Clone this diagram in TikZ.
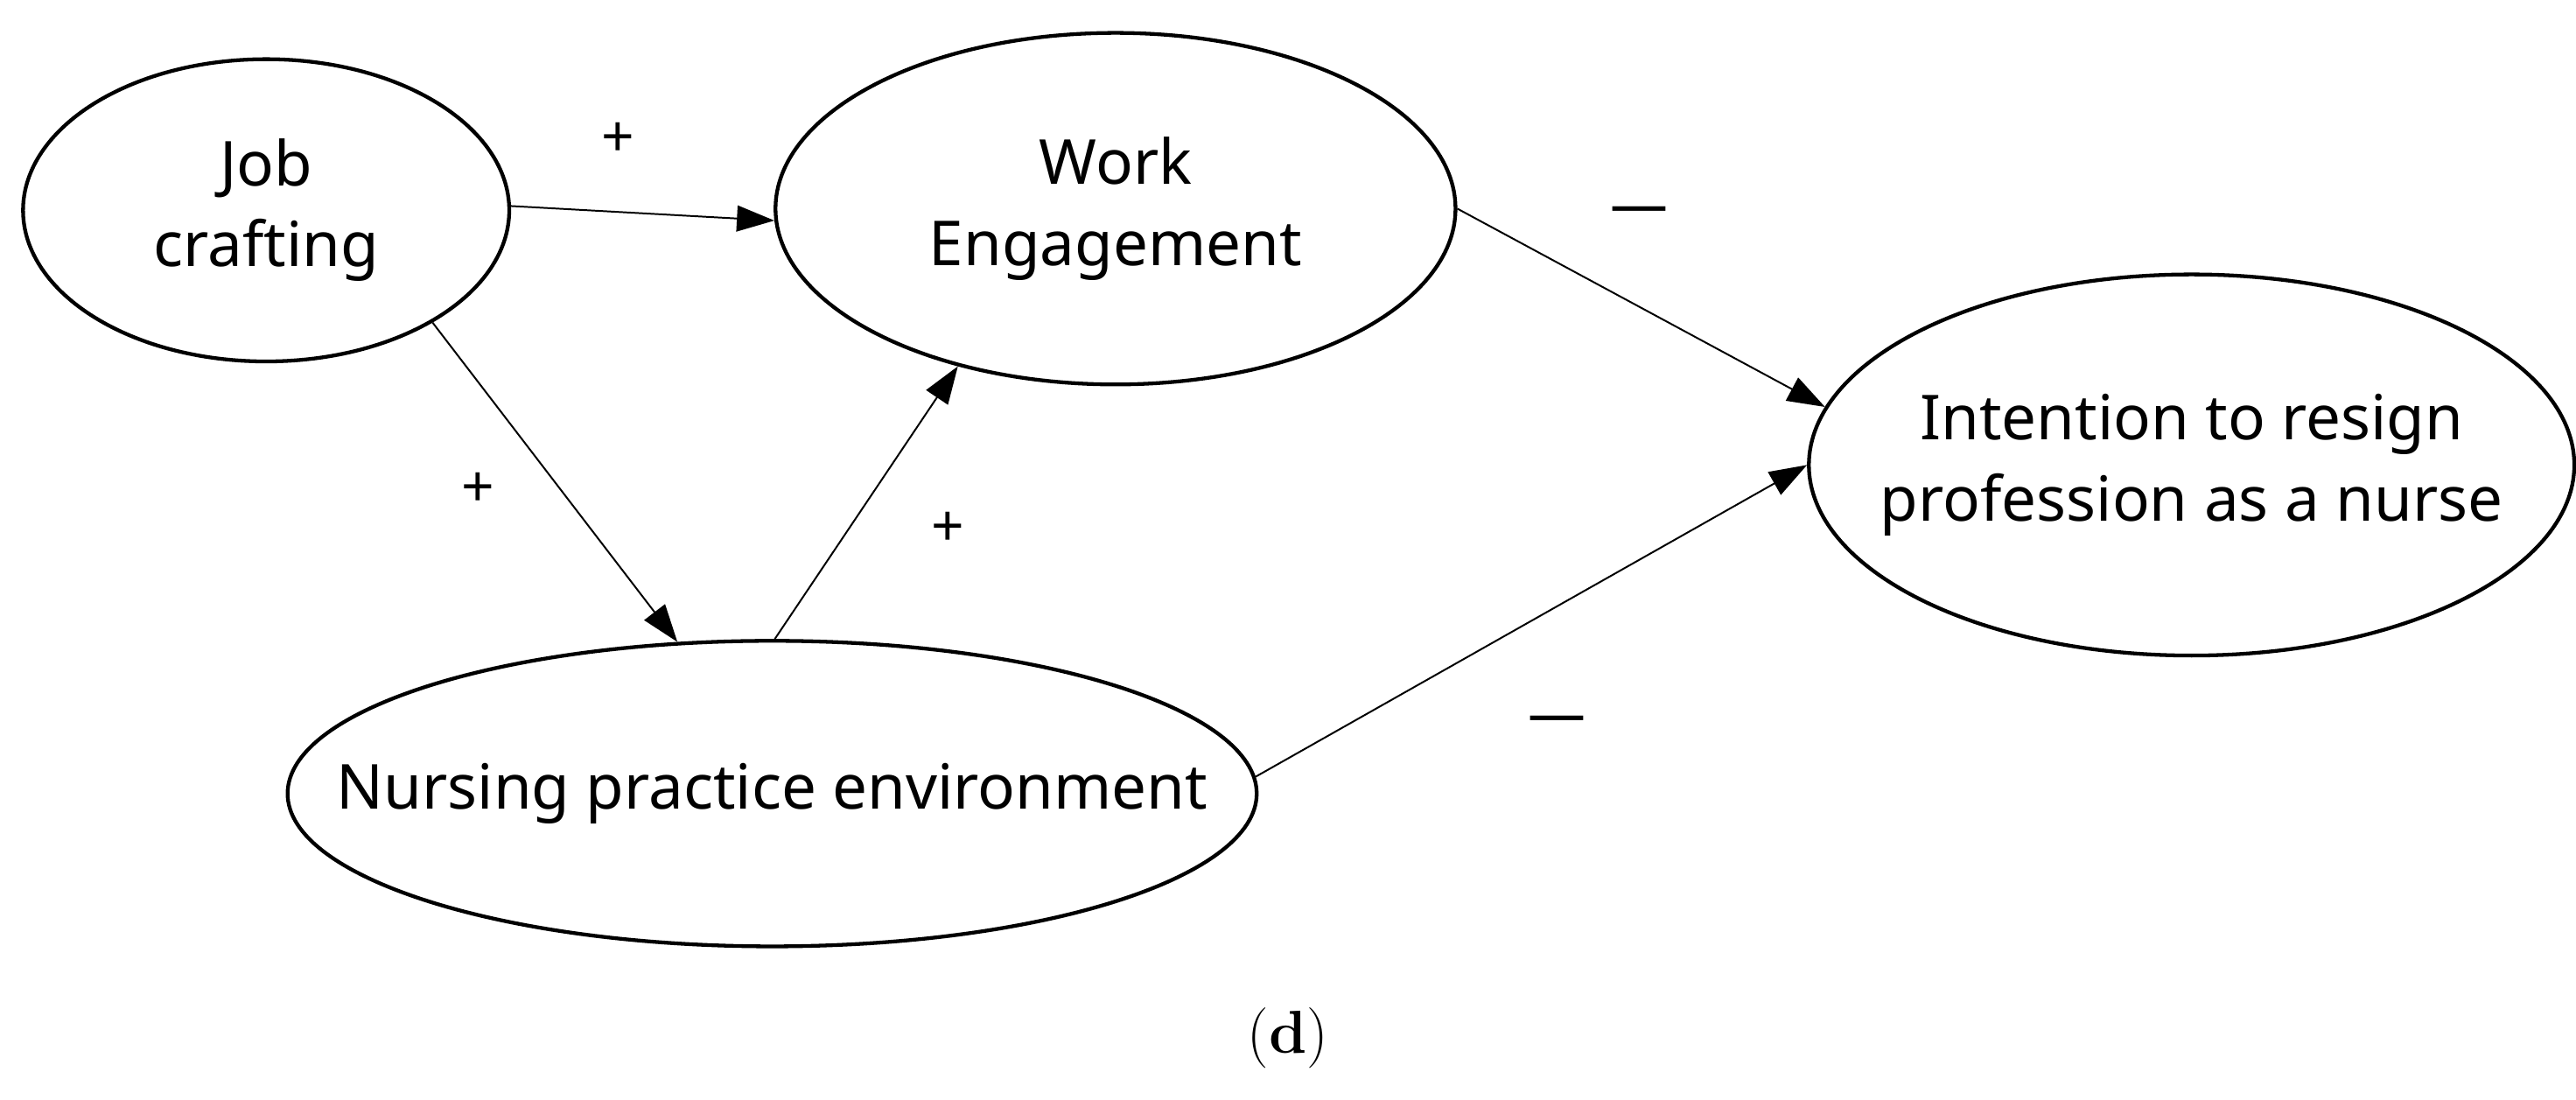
\documentclass[tikz,border=0pt]{standalone}
\usepackage{fontspec}
\setmainfont{Noto Sans}
\newfontfamily\capfont{Latin Modern Roman}
\usetikzlibrary{shapes.geometric,arrows.meta}
\begin{document}
\begin{tikzpicture}[x=0.02cm,y=-0.02cm,
  el/.style={draw,line width=1.3pt,ellipse,inner sep=0pt},
  tx/.style={align=center,font=\fontsize{21.5}{28}\selectfont},
  arr/.style={-{Triangle[length=13pt,width=9pt]},line width=0.6pt},
  sg/.style={font=\fontsize{20}{24}\selectfont}]
\useasboundingbox[fill=white] (0,0) rectangle (1568,669);
\node[el,minimum width=5.92cm,minimum height=3.68cm] (jc) at (162,128) {};
\node[el,minimum width=8.28cm,minimum height=4.28cm] (we) at (679,127) {};
\node[el,minimum width=9.32cm,minimum height=4.64cm] (in) at (1334,283) {};
\node[el,minimum width=11.8cm,minimum height=3.72cm] (np) at (470,483) {};
\node[tx] (tjc) at (jc) {Job\\crafting};
\node[tx] (twe) at (we) {Work\\Engagement};
\node[tx] (tin) at (in) {Intention to resign\\profession as a nurse};
\node[tx] (tnp) at (np) {Nursing practice environment};
\draw[arr] (jc.1) -- (we.182);
\draw[arr] (jc.-34) -- (np.122);
\draw[arr] (np.89) -- (we.-135);
\draw[arr] (we.0) -- (in.171);
\draw[arr] (np.2.6) -- (in.180);
\node[sg] (s1) at (376,85) {+};
\node[sg] (s2) at (291,298) {+};
\node[sg] (s3) at (577,322) {+};
\node[sg] (s4) at (998,131) {—};
\node[sg] (s5) at (948,441) {—};
\node[font=\capfont\fontsize{21}{24}\selectfont] (cap) at (784,632) {(\textbf{d})};
\end{tikzpicture}
\end{document}
